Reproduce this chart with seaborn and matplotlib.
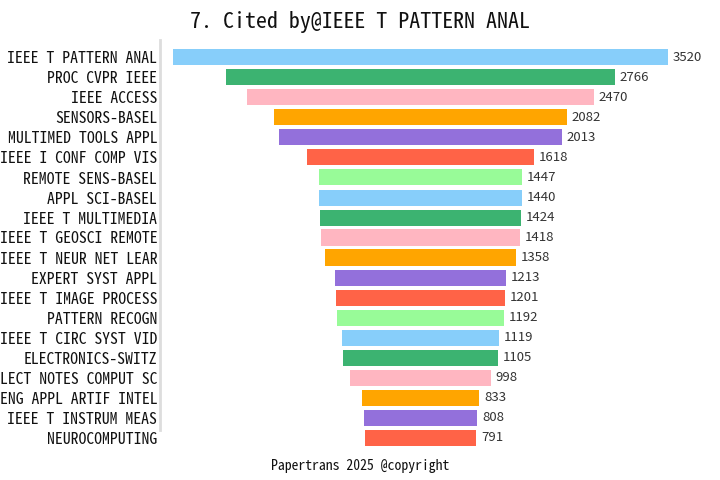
import matplotlib
matplotlib.use("Agg")
import matplotlib.pyplot as plt
import seaborn as sns
import pandas as pd

# journals and citation counts
journals = [
    "IEEE T PATTERN ANAL", "PROC CVPR IEEE", "IEEE ACCESS", "SENSORS-BASEL",
    "MULTIMED TOOLS APPL", "IEEE I CONF COMP VIS", "REMOTE SENS-BASEL",
    "APPL SCI-BASEL", "IEEE T MULTIMEDIA", "IEEE T GEOSCI REMOTE",
    "IEEE T NEUR NET LEAR", "EXPERT SYST APPL", "IEEE T IMAGE PROCESS",
    "PATTERN RECOGN", "IEEE T CIRC SYST VID", "ELECTRONICS-SWITZ",
    "LECT NOTES COMPUT SC", "ENG APPL ARTIF INTEL", "IEEE T INSTRUM MEAS",
    "NEUROCOMPUTING",
]
counts = [3520, 2766, 2470, 2082, 2013, 1618, 1447, 1440, 1424, 1418,
          1358, 1213, 1201, 1192, 1119, 1105, 998, 833, 808, 791]
base_colors = ["#87CEFA", "#3CB371", "#FFB6C1", "#FFA500",
               "#9370DB", "#FF6347", "#98FB98"]

df = pd.DataFrame({"journal": journals, "count": counts})
palette = [base_colors[i % len(base_colors)] for i in range(len(journals))]

mono = ["Noto Sans Mono CJK SC", "DejaVu Sans Mono"]

sns.set_style("white")
fig = plt.figure(figsize=(7.2, 4.8), dpi=100)
ax = fig.add_axes([160 / 720, 1 - 447.5 / 480, 521 / 720, 407.5 / 480])

sns.barplot(data=df, x="count", y="journal", hue="journal", palette=palette,
            orient="h", legend=False, width=0.8, ax=ax, saturation=1,
            linewidth=0, edgecolor="none")

# center the bars to get a funnel
for patch, v in zip(ax.patches, df["count"]):
    patch.set_x(-v / 2)
    ax.annotate(f"{v}", (v / 2, patch.get_y() + patch.get_height() / 2),
                xytext=(3.5, 0), textcoords="offset points", va="center",
                ha="left", fontsize=9.5, color="#333333",
                family=["Noto Sans CJK SC", "DejaVu Sans"], annotation_clip=False)

half = max(counts) / 2 * 1.053
ax.set_xlim(-half, half)
ax.set_ylim(19.5, -0.875)
ax.set_xticks([])
ax.set_xlabel("")
ax.set_ylabel("")
for s in ["top", "right", "bottom"]:
    ax.spines[s].set_visible(False)
ax.spines["left"].set_color("#dddddd")
ax.spines["left"].set_linewidth(2)
ax.spines["left"].set_bounds(-0.875, 18.625)
ax.tick_params(axis="y", length=0, pad=2)
for lbl in ax.get_yticklabels():
    lbl.set_family(mono)
    lbl.set_fontsize(11.3)
    lbl.set_color("#111111")

fig.text(0.5, 1 - 22 / 480, "7. Cited by@IEEE T PATTERN ANAL", ha="center",
         va="center", fontsize=15.8, family=mono, color="#111111")
fig.text(0.5, 1 - 466 / 480, "Papertrans 2025 @copyright", ha="center",
         va="center", fontsize=9.9, family=mono, color="#111111")

fig.savefig("out.png", dpi=100)
